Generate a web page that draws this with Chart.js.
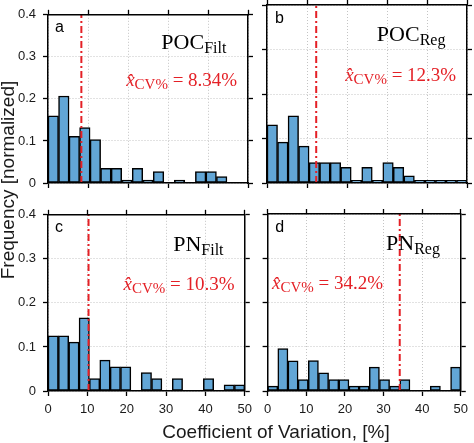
<!DOCTYPE html>
<html>
<head>
<meta charset="utf-8">
<script src="https://cdn.jsdelivr.net/npm/chart.js@4.4.1/dist/chart.umd.min.js"></script>
<style>
  html, body { margin: 0; padding: 0; background: #fff; }
  #wrap { position: relative; width: 474px; height: 443px; overflow: hidden; font-family: "Liberation Sans", Arial, sans-serif; color: #1a1a1a; }
  #wrap canvas { position: absolute; }
  #ylabel { position: absolute; left: -122px; top: 170px; width: 260px; height: 20px; line-height: 20px; text-align: center; font-size: 19px; transform: rotate(-90deg); white-space: nowrap; }
  #xlabel { position: absolute; left: 126px; top: 423px; width: 300px; line-height: 18px; text-align: center; font-size: 19px; white-space: nowrap; }
</style>
</head>
<body>
<div id="wrap">
  <canvas id="pa" width="258" height="200" style="left:0;top:0"></canvas>
  <canvas id="pb" width="216" height="200" style="left:258px;top:0"></canvas>
  <canvas id="pc" width="258" height="243" style="left:0;top:200px"></canvas>
  <canvas id="pd" width="216" height="243" style="left:258px;top:200px"></canvas>
  <div id="ylabel">Frequency [normalized]</div>
  <div id="xlabel">Coefficient of Variation, [%]</div>
</div>
<script>
// tick labels
const xTickValues = [0, 10, 20, 30, 40, 50];
const yTickValues = [0, 0.1, 0.2, 0.3, 0.4];

// histogram bin centres (bin width 50/19)
const binCenters = [1.32, 3.95, 6.58, 9.21, 11.84, 14.47, 17.11, 19.74, 22.37, 25.00,
                    27.63, 30.26, 32.89, 35.53, 38.16, 40.79, 43.42, 46.05, 48.68];

// normalized frequencies
const pocFilt = [0.160, 0.207, 0.111, 0.132, 0.103, 0.035, 0.035, 0.007, 0.035, 0.007,
                 0.027, 0, 0.007, 0, 0.027, 0.027, 0.015];
const pocReg  = [0.131, 0.092, 0.151, 0.083, 0.046, 0.046, 0.046, 0.035, 0.006, 0.035,
                 0.006, 0.046, 0.035, 0.016, 0.006, 0.006, 0.006, 0.006, 0.006];
const pnFilt  = [0.125, 0.125, 0.111, 0.166, 0.028, 0.070, 0.055, 0.055, 0, 0.042,
                 0.028, 0, 0.028, 0, 0, 0.028, 0, 0.014, 0.014];
const pnReg   = [0.011, 0.096, 0.068, 0.026, 0.069, 0.041, 0.026, 0.026, 0.011, 0.011,
                 0.054, 0.026, 0.011, 0.026, 0, 0, 0.011, 0, 0.054];

const medians = [8.34, 12.3, 10.3, 34.2];
const panelLetters = ['a', 'b', 'c', 'd'];
const titleMain = ['POC', 'POC', 'PN', 'PN'];
const titleSub = ['Filt', 'Reg', 'Filt', 'Reg'];

const BAR_FILL = 'rgb(98,166,214)';
const RED = 'rgb(228,32,38)';
const SANS = '"Liberation Sans", Arial, sans-serif';
const SERIF = '"Liberation Serif", "Times New Roman", serif';

function makeScale(pos, tickList, showLabels, size, onArea) {
  const horiz = pos === 'top' || pos === 'bottom';
  return {
    type: 'linear',
    position: pos,
    axis: horiz ? 'x' : 'y',
    min: tickList[0],
    max: tickList[tickList.length - 1],
    offset: false,
    afterBuildTicks: s => { s.ticks = tickList.map(v => ({ value: v })); },
    afterFit: s => { if (horiz) s.height = size; else s.width = size; },
    ticks: {
      display: showLabels,
      padding: horiz ? 6 : 7,
      color: '#1a1a1a',
      font: { family: SANS, size: 13 },
      maxRotation: 0,
      autoSkip: false,
      callback: v => String(v)
    },
    grid: {
      drawOnChartArea: onArea,
      color: '#c4c4c4',
      lineWidth: 1,
      tickLength: 5,
      tickColor: '#000',
      tickWidth: 1.3,
      offset: false
    },
    border: { color: '#000', width: 1.5, dash: [1, 2], z: 1 }
  };
}

// letter, title and median label, placed in axis units
function textPlugin(i, statRight) {
  return {
    id: 'panelText' + i,
    afterDatasetsDraw(chart) {
      const ctx = chart.ctx, xs = chart.scales.x, ys = chart.scales.y;
      ctx.save();
      ctx.textBaseline = 'alphabetic';
      ctx.textAlign = 'left';

      ctx.fillStyle = '#000';
      ctx.font = '16px ' + SANS;
      ctx.fillText(panelLetters[i], xs.getPixelForValue(i % 2 ? 2.0 : 1.75), ys.getPixelForValue(0.36));

      // title, right aligned
      const tRight = xs.getPixelForValue(44.6), tBase = ys.getPixelForValue(0.318);
      ctx.font = '22px ' + SERIF;
      const wMain = ctx.measureText(titleMain[i]).width;
      ctx.font = '16px ' + SERIF;
      const wSub = ctx.measureText(titleSub[i]).width;
      let x = tRight - wMain - wSub;
      ctx.font = '22px ' + SERIF;
      ctx.fillText(titleMain[i], x, tBase);
      ctx.font = '16px ' + SERIF;
      ctx.fillText(titleSub[i], x + wMain, tBase + 4);

      // median label
      ctx.fillStyle = RED;
      const parts = [
        { t: 'x\u0302', f: 'italic 19px ' + SERIF, dy: 0 },
        { t: 'CV%', f: '15px ' + SERIF, dy: 3 },
        { t: ' = ' + String(medians[i]) + '%', f: '19px ' + SERIF, dy: 0 }
      ];
      let total = 0;
      parts.forEach(p => { ctx.font = p.f; p.w = ctx.measureText(p.t).width; total += p.w; });
      x = xs.getPixelForValue(statRight) - total;
      const sBase = ys.getPixelForValue(0.23);
      parts.forEach(p => { ctx.font = p.f; ctx.fillText(p.t, x, sBase + p.dy); x += p.w; });
      ctx.restore();
    }
  };
}

function makePanel(i, canvasId, values, box) {
  const med = medians[i];
  const bars = values.map((v, k) => ({ x: binCenters[k], y: v }));
  new Chart(document.getElementById(canvasId), {
    type: 'bar',
    data: {
      datasets: [
        {
          type: 'line',
          data: [{ x: med, y: yTickValues[0] }, { x: med, y: yTickValues[yTickValues.length - 1] }],
          borderColor: RED, borderWidth: 2, borderDash: [7, 3, 2, 3],
          pointRadius: 0, order: 0, xAxisID: 'x', yAxisID: 'y'
        },
        {
          type: 'bar',
          data: bars,
          backgroundColor: BAR_FILL, borderColor: '#000', borderWidth: 1.5,
          borderSkipped: false, barPercentage: 1, categoryPercentage: 1,
          order: 1, xAxisID: 'x', yAxisID: 'y'
        }
      ]
    },
    options: {
      responsive: false,
      animation: false,
      layout: { padding: 0, autoPadding: false },
      plugins: { legend: { display: false }, tooltip: { enabled: false } },
      scales: {
        x: makeScale('bottom', xTickValues, box.showX, box.bottom, true),
        xTop: makeScale('top', xTickValues, false, box.top, false),
        y: makeScale('left', yTickValues, box.showY, box.left, true),
        yRight: makeScale('right', yTickValues, false, box.right, false)
      }
    },
    plugins: [textPlugin(i, box.statRight)]
  });
}

makePanel(0, 'pa', pocFilt, { left: 48, right: 10, top: 5, bottom: 17, showX: false, showY: true, statRight: 47.3 });
makePanel(1, 'pb', pocReg,  { left: 9,  right: 7,  top: 5, bottom: 17, showX: false, showY: false, statRight: 47.3 });
makePanel(2, 'pc', pnFilt,  { left: 48, right: 10, top: 14, bottom: 52, showX: true, showY: true, statRight: 47.4 });
makePanel(3, 'pd', pnReg,   { left: 9,  right: 7,  top: 14, bottom: 52, showX: true, showY: false, statRight: 29.9 });
</script>
</body>
</html>
